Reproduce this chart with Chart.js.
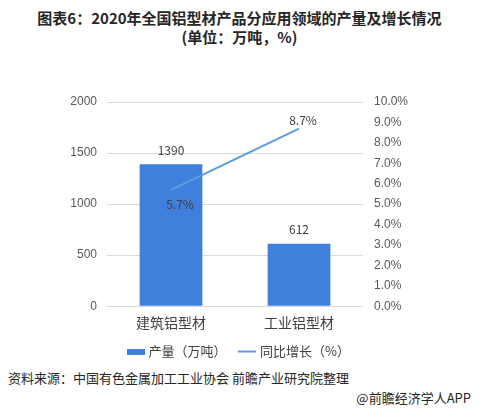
<!DOCTYPE html>
<html>
<head>
<meta charset="utf-8">
<script src="https://cdn.jsdelivr.net/npm/chart.js@4/dist/chart.umd.min.js"></script>
<style>
  body { margin: 0; background: #fff; font-family: "Noto Sans CJK SC", "DejaVu Sans", sans-serif; }
  #wrap { position: relative; width: 479px; height: 409px; overflow: hidden; }
  #title { position: absolute; top: 8px; left: 0; width: 479px; text-align: center; font-weight: bold; font-size: 15px; line-height: 19px; color: #262626; }
  #box { position: absolute; top: 60px; left: 0; width: 479px; height: 308px; }
  #source { position: absolute; top: 368px; left: 8px; font-size: 13px; color: #262626; }
  #app { position: absolute; top: 388px; right: 8px; font-size: 13px; color: #262626; }
</style>
</head>
<body>
<div id="wrap">
  <div id="title">图表6：2020年全国铝型材产品分应用领域的产量及增长情况<br>(单位：万吨，%)</div>
  <div id="box"><canvas id="chart" width="479" height="308"></canvas></div>
  <div id="source">资料来源：中国有色金属加工工业协会 前瞻产业研究院整理</div>
  <div id="app">@前瞻经济学人APP</div>
</div>
<script>
const categories = ['建筑铝型材', '工业铝型材'];
const output = [1390, 612];
const growth = [5.7, 8.7];
const leftTicks = [0, 500, 1000, 1500, 2000];
const rightTicks = [0, 1, 2, 3, 4, 5, 6, 7, 8, 9, 10];

const barColor = '#3f80dc';
const lineColor = '#5b9be0';

function legendIcon(h, color) {
    const c = document.createElement('canvas');
    c.width = 18; c.height = 6;
    const ctx = c.getContext('2d');
    ctx.fillStyle = color;
    ctx.fillRect(0, (6 - h) / 2, 18, h);
    return c;
}

const valueLabels = {
    id: 'valueLabels',
    afterDatasetsDraw(chart) {
        const ctx = chart.ctx;
        ctx.save();
        ctx.font = '12px "Noto Sans CJK SC", "DejaVu Sans", sans-serif';
        ctx.fillStyle = '#404040';
        ctx.textAlign = 'center';
        ctx.textBaseline = 'middle';
        chart.getDatasetMeta(0).data.forEach((bar, i) => {
            ctx.fillText(output[i], bar.x, bar.y - 14);
        });
        chart.getDatasetMeta(1).data.forEach((pt, i) => {
            const dy = i === 0 ? 15 : -8;
            const dx = i === 0 ? 9 : 4;
            ctx.fillText(growth[i].toFixed(1) + '%', pt.x + dx, pt.y + dy);
        });
        ctx.restore();
    }
};

new Chart(document.getElementById('chart'), {
    data: {
        labels: categories,
        datasets: [
            {
                type: 'bar',
                label: '产量（万吨）',
                data: output,
                backgroundColor: barColor,
                categoryPercentage: 1,
                barPercentage: 0.49,
                yAxisID: 'y',
                order: 2,
                pointStyle: legendIcon(6, barColor)
            },
            {
                type: 'line',
                label: '同比增长（%）',
                data: growth,
                borderColor: lineColor,
                backgroundColor: lineColor,
                borderWidth: 2,
                pointRadius: 0,
                yAxisID: 'y1',
                order: 1,
                pointStyle: legendIcon(2, lineColor)
            }
        ]
    },
    options: {
        responsive: false,
        animation: false,
        layout: { padding: { top: 42, bottom: 0, left: 0, right: 0 } },
        plugins: {
            tooltip: { enabled: false },
            legend: {
                position: 'bottom',
                labels: {
                    usePointStyle: true,
                    color: '#404040',
                    font: { size: 13, family: '"Noto Sans CJK SC", sans-serif' },
                    padding: 14,
                    sort: (a, b) => a.datasetIndex - b.datasetIndex
                }
            }
        },
        scales: {
            x: {
                grid: { display: false },
                border: { display: false },
                ticks: { color: '#404040', font: { size: 14, family: '"Noto Sans CJK SC", sans-serif' }, padding: 0 }
            },
            y: {
                position: 'left',
                min: 0, max: 2000,
                afterFit(s) { s.width = 107; },
                afterBuildTicks(s) { s.ticks = leftTicks.map(v => ({ value: v })); },
                grid: { color: '#d9d9d9', drawTicks: false },
                border: { display: false },
                ticks: { color: '#595959', font: { size: 12 }, padding: 10, callback: v => String(v) }
            },
            y1: {
                position: 'right',
                min: 0, max: 10,
                afterFit(s) { s.width = 116; },
                afterBuildTicks(s) { s.ticks = rightTicks.map(v => ({ value: v })); },
                grid: { drawOnChartArea: false, drawTicks: false },
                border: { display: false },
                ticks: { color: '#595959', font: { size: 12 }, padding: 11, callback: v => v.toFixed(1) + '%' }
            }
        }
    },
    plugins: [valueLabels]
});
</script>
</body>
</html>
